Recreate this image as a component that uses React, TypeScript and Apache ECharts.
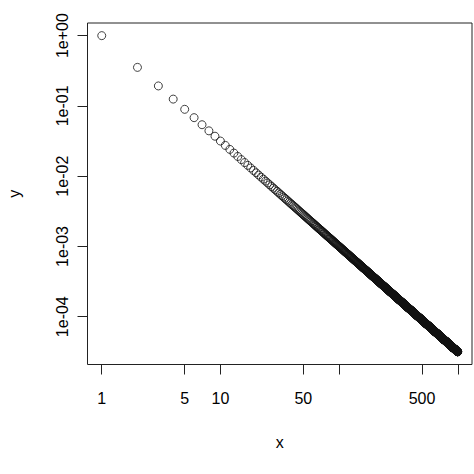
import React, { useEffect, useRef } from "react";
import * as echarts from "echarts";

// Data: x = 1..1000, y = x^(-1.5) as plotted in the reference (log-log scatter)
const N_POINTS = 1000;
const EXPONENT = -1.5;
const xValues: number[] = Array.from({ length: N_POINTS }, (_, i) => i + 1);
const yValues: number[] = xValues.map((x) => Math.pow(x, EXPONENT));

// Tick positions (raw values)
const xTickValues = [1, 5, 10, 50, 100, 500, 1000];
const xLabelValues = [1, 5, 10, 50, 500];
const yTickValues = [1, 1e-1, 1e-2, 1e-3, 1e-4];

const FONT = "'Liberation Sans', Arial, Helvetica, sans-serif";

export default function App() {
  const ref = useRef<HTMLDivElement>(null);
  useEffect(() => {
    if (!ref.current) return;
    const chart = echarts.init(ref.current, undefined, { renderer: "svg" });
    const data = xValues.map((x, i) => [Math.log10(x), Math.log10(yValues[i])]);
    const fmtY = (v: number) => {
      const e = Math.round(v);
      return `1e${e >= 0 ? "+" : "-"}${String(Math.abs(e)).padStart(2, "0")}`;
    };
    chart.setOption({
      animation: false,
      backgroundColor: "#fff",
      grid: {
        left: 87.5,
        right: 2,
        top: 23,
        bottom: 109.5,
        show: true,
        containLabel: false,
        outerBoundsMode: "none",
        borderColor: "#222",
        borderWidth: 1,
        backgroundColor: "transparent",
      },
      xAxis: {
        type: "value",
        min: -0.12,
        max: 3.12,
        name: "x",
        nameLocation: "middle",
        nameGap: 70,
        nameTextStyle: { fontFamily: FONT, fontSize: 16, color: "#000" },
        axisLine: { show: false, onZero: false },
        splitLine: { show: false },
        axisTick: {
          show: true,
          length: 10,
          lineStyle: { color: "#222", width: 1 },
          customValues: xTickValues.map((v) => Math.log10(v)),
        },
        axisLabel: {
          margin: 26,
          fontFamily: FONT,
          fontSize: 16,
          color: "#000",
          customValues: xLabelValues.map((v) => Math.log10(v)),
          formatter: (v: number) => String(Math.round(Math.pow(10, v))),
        },
      },
      yAxis: {
        type: "value",
        min: -4.68,
        max: 0.18,
        name: "y",
        nameLocation: "middle",
        nameGap: 65,
        nameTextStyle: { fontFamily: FONT, fontSize: 16, color: "#000" },
        axisLine: { show: false, onZero: false },
        splitLine: { show: false },
        axisTick: {
          show: true,
          length: 10,
          lineStyle: { color: "#222", width: 1 },
          customValues: yTickValues.map((v) => Math.log10(v)),
        },
        axisLabel: {
          margin: 17,
          rotate: 90,
          fontFamily: FONT,
          fontSize: 16,
          color: "#000",
          customValues: yTickValues.map((v) => Math.log10(v)),
          formatter: fmtY,
        },
      },
      series: [
        {
          type: "scatter",
          data,
          symbol: "circle",
          symbolSize: 8,
          itemStyle: { color: "transparent", borderColor: "#111", borderWidth: 1 },
          emphasis: { disabled: true },
        },
      ],
    });
    return () => chart.dispose();
  }, []);
  return (
    <div
      ref={ref}
      style={{ position: "absolute", left: 0, top: 0, width: 474, height: 474 }}
    />
  );
}
